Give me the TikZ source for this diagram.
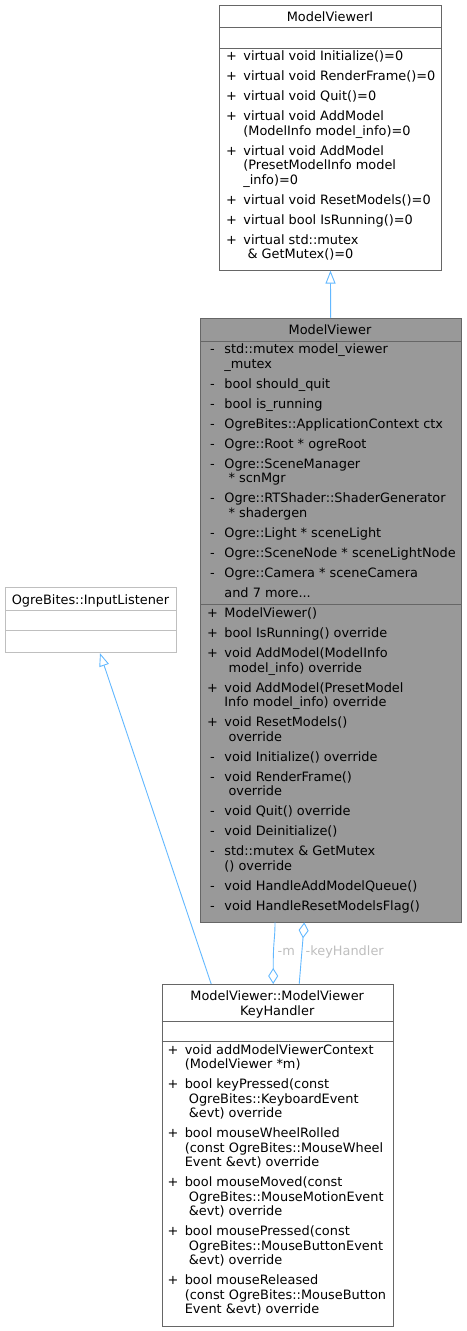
\documentclass[tikz,border=0pt]{standalone}
\usepackage{fontspec}
\setmainfont{DejaVu Sans}
\usepackage{array}
\usetikzlibrary{arrows.meta}
\usetikzlibrary{calc}

\definecolor{focusgray}{HTML}{999999}
\definecolor{boxgray}{HTML}{666666}
\definecolor{extgray}{HTML}{BFBFBF}
\definecolor{edgeblue}{HTML}{63B8FF}
\definecolor{labelgray}{HTML}{BEBEBE}

\newcommand{\mlist}[1]{\begin{tabular}[t]{@{}w{c}{10.7pt}@{\hspace{6.5pt}}l@{}}#1\end{tabular}}

\tikzstyle{classbox} = [rectangle, draw=boxgray, fill=white, line width=0.9pt, inner sep=0pt, anchor=north west]
\tikzstyle{focusbox} = [classbox, fill=focusgray]
\tikzstyle{extbox} = [classbox, draw=extgray]
\tikzstyle{divider} = [draw=boxgray, line width=0.9pt]
\tikzstyle{extdivider} = [divider, draw=extgray]
\tikzstyle{classname} = [inner sep=0pt, anchor=base]
\tikzstyle{members} = [inner sep=0pt, anchor=base west]
\tikzstyle{inherit} = [draw=edgeblue, line width=0.9pt, -{Triangle[open,length=13pt,width=10pt]}]
\tikzstyle{usage} = [draw=edgeblue, line width=0.9pt, -{Diamond[open,length=16pt,width=10pt]}]
\tikzstyle{rolename} = [text=labelgray, inner sep=0pt, anchor=base west]

\begin{document}
\begin{tikzpicture}[x=1pt, y=-1pt, font=\fontsize{12.9}{14.5}\selectfont]
\useasboundingbox (0,0) rectangle (466,1331);

\node (mvi) [classbox, minimum width=222pt, minimum height=264.7pt] at (219,5) {};
\draw [divider] ($(mvi.north west)+(0,22.7)$) -- ($(mvi.north east)+(0,22.7)$);
\draw [divider] ($(mvi.north west)+(0,43)$) -- ($(mvi.north east)+(0,43)$);
\node (mvititle) [classname] at (330,21.3) {ModelViewerI};
\node (mvimeth) [members] at (226,60.5) {\mlist{
+ & virtual void Initialize()=0\\[5.5pt]
+ & virtual void RenderFrame()=0\\[5.5pt]
+ & virtual void Quit()=0\\[5.5pt]
+ & virtual void AddModel\\ & (ModelInfo model\_info)=0\\[5.5pt]
+ & virtual void AddModel\\ & (PresetModelInfo model\\ & \_info)=0\\[5.5pt]
+ & virtual void ResetModels()=0\\[5.5pt]
+ & virtual bool IsRunning()=0\\[5.5pt]
+ & virtual std::mutex\\ & \ \& GetMutex()=0}};

\node (mv) [focusbox, minimum width=260.5pt, minimum height=603.5pt] at (200,318) {};
\draw [divider] ($(mv.north west)+(0,23)$) -- ($(mv.north east)+(0,23)$);
\draw [divider] ($(mv.north west)+(0,286.5)$) -- ($(mv.north east)+(0,286.5)$);
\node (mvtitle) [classname] at (330,334.6) {ModelViewer};
\node (mvattr) [members] at (207,353.5) {\mlist{
- & std::mutex model\_viewer\\ & \_mutex\\[5.5pt]
- & bool should\_quit\\[5.5pt]
- & bool is\_running\\[5.5pt]
- & OgreBites::ApplicationContext ctx\\[5.5pt]
- & Ogre::Root * ogreRoot\\[5.5pt]
- & Ogre::SceneManager\\ & \ * scnMgr\\[5.5pt]
- & Ogre::RTShader::ShaderGenerator\\ & \ * shadergen\\[5.5pt]
- & Ogre::Light * sceneLight\\[5.5pt]
- & Ogre::SceneNode * sceneLightNode\\[5.5pt]
- & Ogre::Camera * sceneCamera\\[5.5pt]
 & and 7 more...}};
\node (mvmeth) [members] at (207,617.5) {\mlist{
+ & ModelViewer()\\[5.5pt]
+ & bool IsRunning() override\\[5.5pt]
+ & void AddModel(ModelInfo\\ & \ model\_info) override\\[5.5pt]
+ & void AddModel(PresetModel\\ & Info model\_info) override\\[5.5pt]
+ & void ResetModels()\\ & \ override\\[5.5pt]
- & void Initialize() override\\[5.5pt]
- & void RenderFrame()\\ & \ override\\[5.5pt]
- & void Quit() override\\[5.5pt]
- & void Deinitialize()\\[5.5pt]
- & std::mutex \& GetMutex\\ & () override\\[5.5pt]
- & void HandleAddModelQueue()\\[5.5pt]
- & void HandleResetModelsFlag()}};

\node (il) [extbox, minimum width=171pt, minimum height=65.6pt] at (5,586.7) {};
\draw [extdivider] ($(il.north west)+(0,24)$) -- ($(il.north east)+(0,24)$);
\draw [extdivider] ($(il.north west)+(0,44)$) -- ($(il.north east)+(0,44)$);
\node (iltitle) [classname] at (90.5,604.5) {OgreBites::InputListener};

\node (kh) [classbox, minimum width=231pt, minimum height=341.7pt] at (161.7,984) {};
\draw [divider] ($(kh.north west)+(0,37.7)$) -- ($(kh.north east)+(0,37.7)$);
\draw [divider] ($(kh.north west)+(0,57.7)$) -- ($(kh.north east)+(0,57.7)$);
\node (khtitle) [inner sep=0pt, align=center] at (277.2,1004.5) {ModelViewer::ModelViewer\\KeyHandler};
\node (khmeth) [members] at (167.4,1054.2) {\mlist{
+ & void addModelViewerContext\\ & (ModelViewer *m)\\[5.5pt]
+ & bool keyPressed(const\\ & \ OgreBites::KeyboardEvent\\ & \ \&evt) override\\[5.5pt]
+ & bool mouseWheelRolled\\ & (const OgreBites::MouseWheel\\ & Event \&evt) override\\[5.5pt]
+ & bool mouseMoved(const\\ & \ OgreBites::MouseMotionEvent\\ & \ \&evt) override\\[5.5pt]
+ & bool mousePressed(const\\ & \ OgreBites::MouseButtonEvent\\ & \ \&evt) override\\[5.5pt]
+ & bool mouseReleased\\ & (const OgreBites::MouseButton\\ & Event \&evt) override}};

\draw [inherit] (mv.north) -- (mvi.south);
\draw [inherit] ($(kh.north west)+(49.5,0)$) -- ($(il.south west)+(95,0)$);

\draw [usage] ($(mv.south west)+(75,0)$) .. controls +(0,18) and +(0,-45) .. ($(kh.north west)+(111.5,0)$);
\draw [usage] ($(kh.north west)+(137.5,0)$) -- ($(mv.south west)+(104.3,0)$);

\node (mlabel) [rolename] at (277.5,955) {-m};
\node (khlabel) [rolename] at (305.5,955) {-keyHandler};
\end{tikzpicture}
\end{document}
